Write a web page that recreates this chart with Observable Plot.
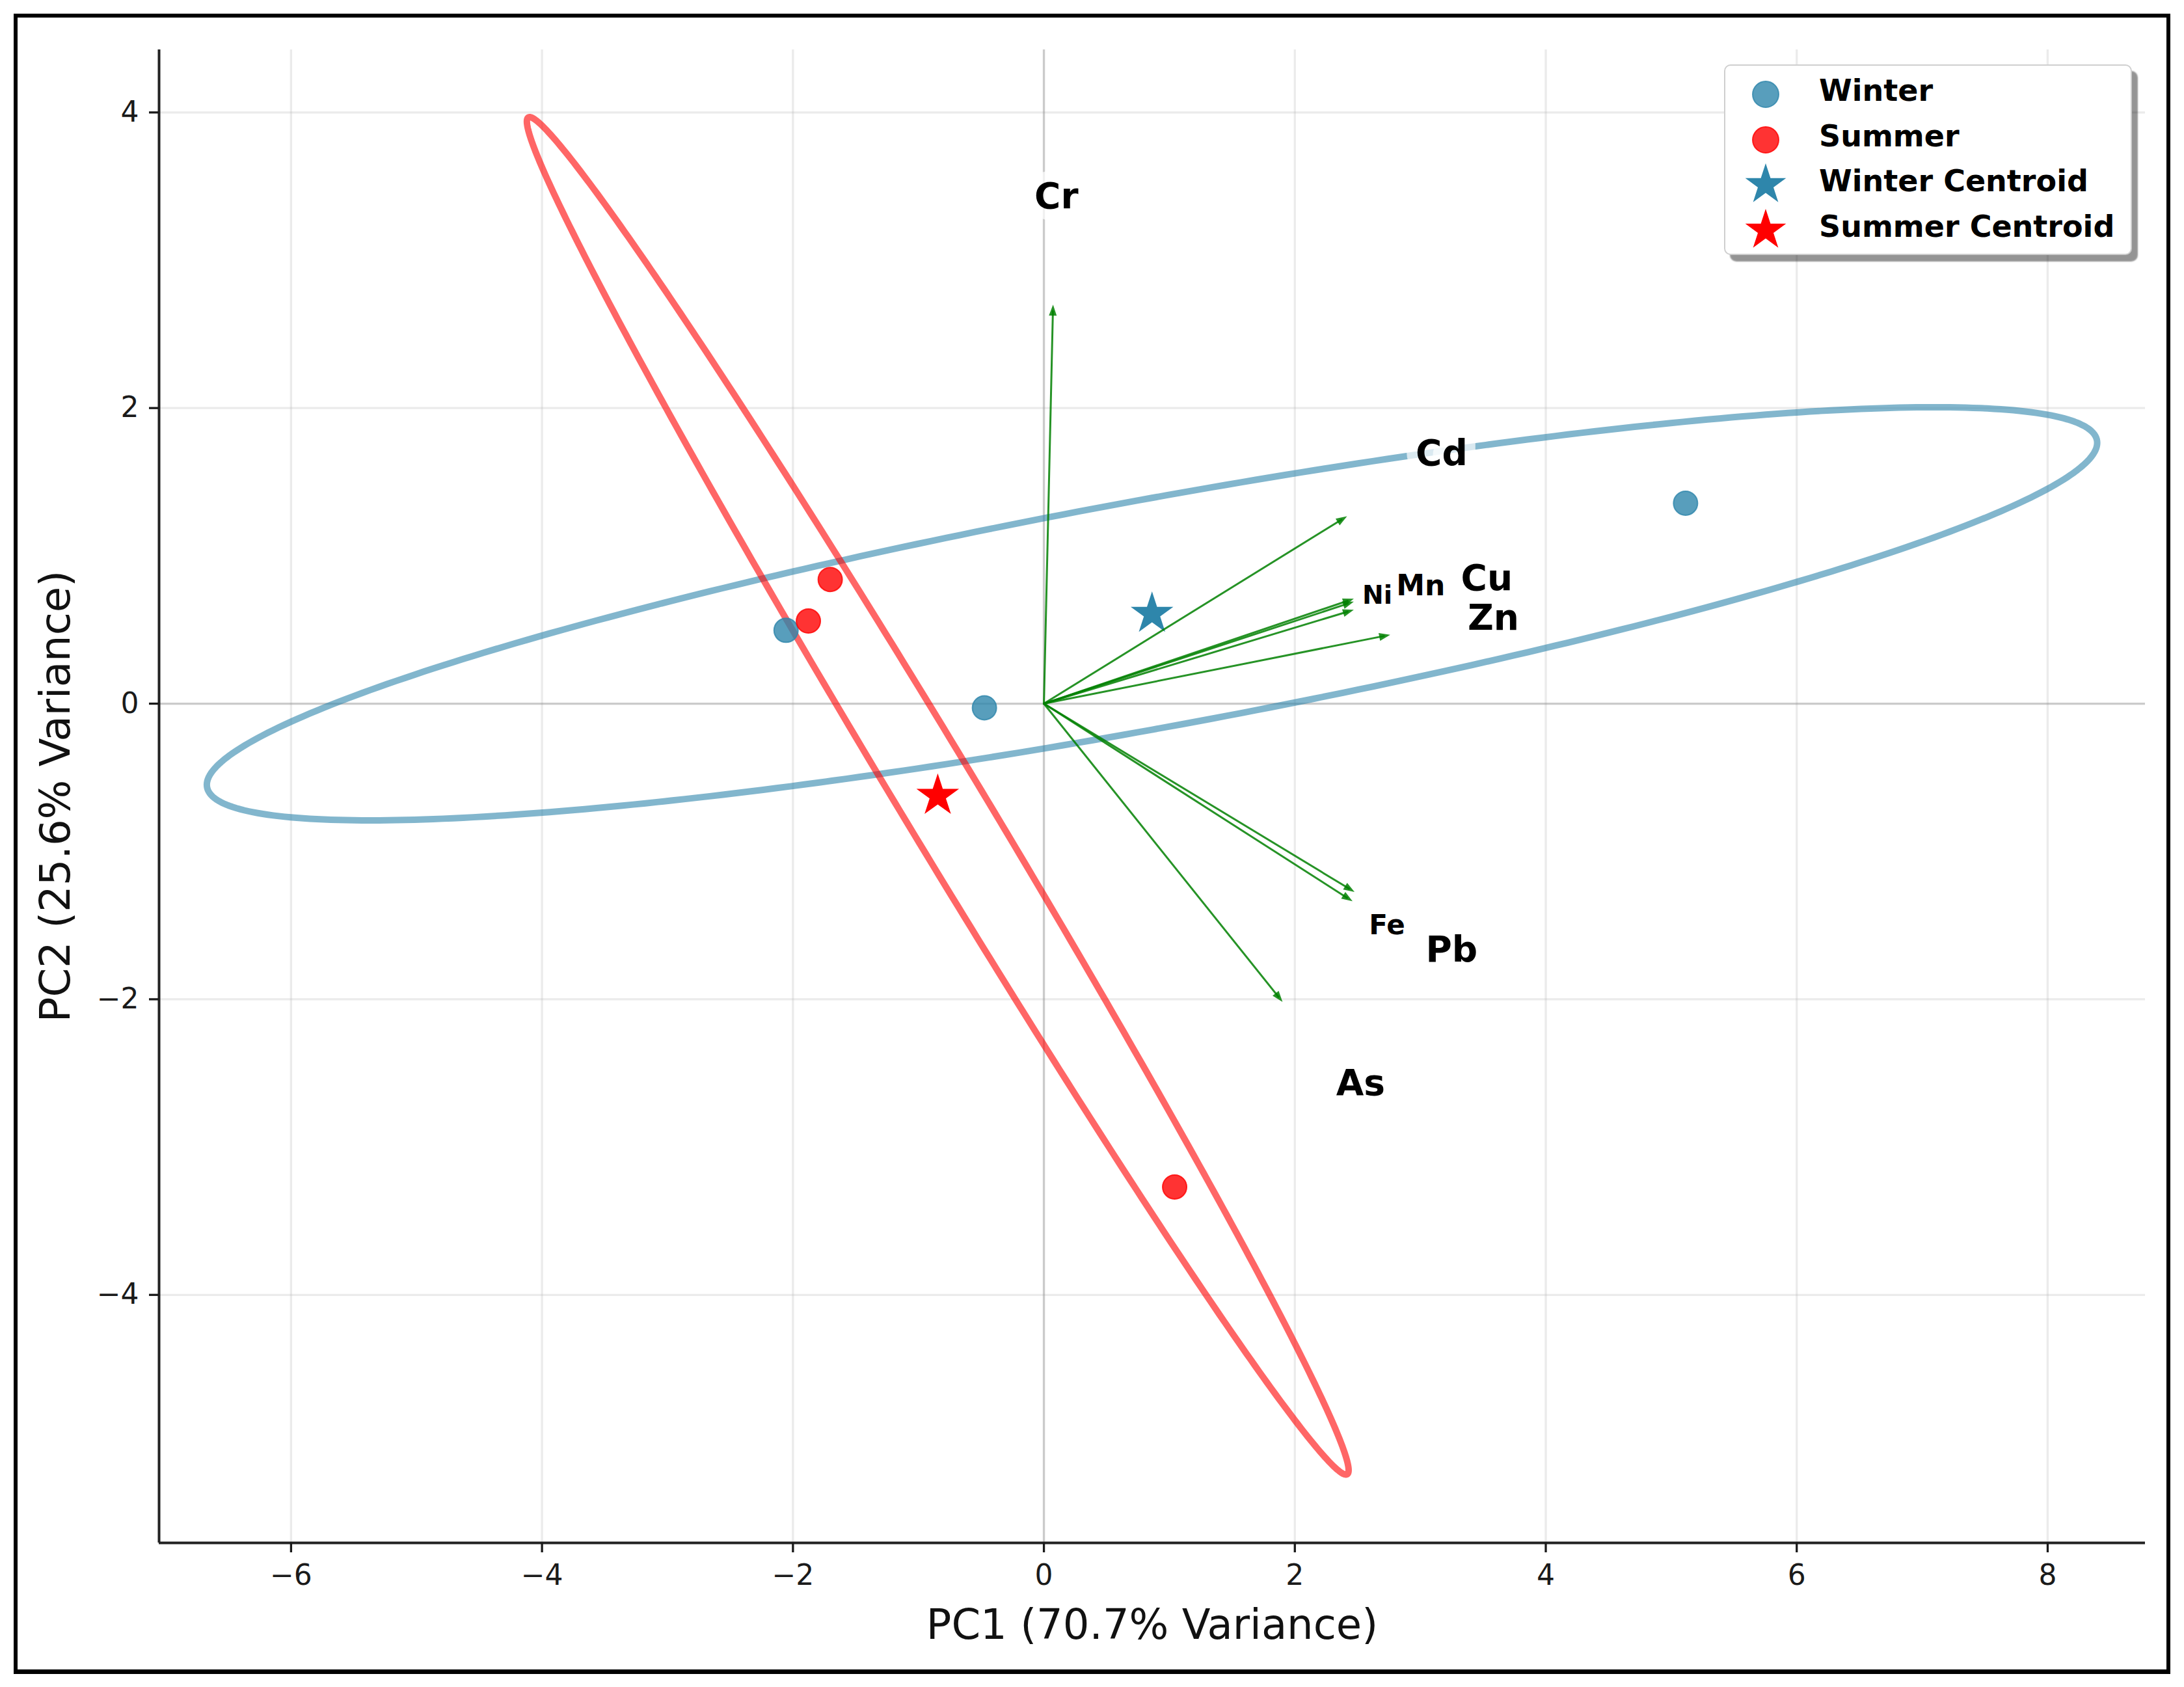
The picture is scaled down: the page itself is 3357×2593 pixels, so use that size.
<!DOCTYPE html>
<html>
<head>
<meta charset="utf-8">
<script src="https://cdn.jsdelivr.net/npm/d3@7"></script>
<script src="https://cdn.jsdelivr.net/npm/@observablehq/plot@0.6"></script>
<style>
  html, body { margin: 0; padding: 0; background: #fff; }
  #fig { position: relative; width: 3357px; height: 2593px; background: #fff; overflow: hidden;
         font-family: "DejaVu Sans", sans-serif; }
  #chart { position: absolute; left: 0; top: 0; }
  #frame { position: absolute; left: 21px; top: 21px; width: 3315px; height: 2552px;
           border: 6px solid #000; border-bottom-width: 7px; box-sizing: border-box; pointer-events: none; }
  #legend { position: absolute; left: 2650px; top: 99px; width: 627px; height: 293px; box-sizing: border-box;
            background: #fff; border: 2px solid #cfcfcf; border-radius: 10px;
            box-shadow: 9px 10px 2px rgba(0,0,0,0.42); }
  .row { position: absolute; left: 0; height: 80px; width: 100%; }
  .row svg { position: absolute; left: 22px; top: 0; }
  .row span { position: absolute; left: 144px; top: -6px; line-height: 80px; font-weight: bold;
              font-size: 46px; color: #000; white-space: nowrap; }
</style>
</head>
<body>
<div id="fig">
  <div id="chart"></div>
  <div id="legend"></div>
  <div id="frame"></div>
</div>
<script>
// PCA sample scores, one array per season and component
const winterPC1 = [5.114, -2.055, -0.474];
const winterPC2 = [1.356, 0.496, -0.028];
const summerPC1 = [-1.703, -1.877, 1.042];
const summerPC2 = [0.840, 0.559, -3.270];

// Element loadings (arrow tips) and where each element name sits
const elements   = ["Cr", "Cd", "Cu", "Mn", "Ni", "Zn", "Pb", "Fe", "As"];
const loadingPC1 = [0.073, 2.416, 2.470, 2.470, 2.470, 2.760, 2.476, 2.460, 1.902];
const loadingPC2 = [2.700, 1.268, 0.710, 0.635, 0.690, 0.466, -1.274, -1.337, -2.018];
const labelPC1   = [0.100, 3.170, 3.530, 3.003, 2.657, 3.582, 3.250, 2.735, 2.524];
const labelPC2   = [3.430, 1.690, 0.848, 0.796, 0.730, 0.576, -1.667, -1.499, -2.568];

// Axes
const xTicks = [-6, -4, -2, 0, 2, 4, 6, 8];
const yTicks = [-4, -2, 0, 2, 4];
const xTitle = "PC1 (70.7% Variance)";
const yTitle = "PC2 (25.6% Variance)";

// Legend entries
const legendLabels = ["Winter", "Summer", "Winter Centroid", "Summer Centroid"];

// ---------------------------------------------------------------
const winterColor = "#2E86AB";
const summerColor = "#ff0000";
const arrowColor = "#008000";
const xDomain = [-7.052, 8.778];
const yDomain = [-5.678, 4.424];
const W = 3357, H = 2593;
const margin = {left: 244, right: 60, top: 76, bottom: 222};

const toPoints = (xs, ys) => xs.map((x, i) => ({x, y: ys[i]}));
const winter = toPoints(winterPC1, winterPC2);
const summer = toPoints(summerPC1, summerPC2);
const winterCentroid = [{x: d3.mean(winterPC1), y: d3.mean(winterPC2)}];
const summerCentroid = [{x: d3.mean(summerPC1), y: d3.mean(summerPC2)}];

// 2-standard-deviation covariance ellipse of a group of scores
function confidenceEllipse(xs, ys, nStd = 2, steps = 400) {
  const mx = d3.mean(xs), my = d3.mean(ys), n = xs.length;
  let sxx = 0, syy = 0, sxy = 0;
  for (let i = 0; i < n; i++) {
    const dx = xs[i] - mx, dy = ys[i] - my;
    sxx += dx * dx; syy += dy * dy; sxy += dx * dy;
  }
  sxx /= n - 1; syy /= n - 1; sxy /= n - 1;
  const tr = sxx + syy, det = sxx * syy - sxy * sxy;
  const disc = Math.sqrt(Math.max(tr * tr / 4 - det, 0));
  const l1 = tr / 2 + disc, l2 = Math.max(tr / 2 - disc, 0);
  const theta = 0.5 * Math.atan2(2 * sxy, sxx - syy);
  const a = nStd * Math.sqrt(l1), b = nStd * Math.sqrt(l2);
  const c = Math.cos(theta), s = Math.sin(theta);
  return d3.range(steps).map(k => {
    const t = 2 * Math.PI * k / steps;
    const u = a * Math.cos(t), v = b * Math.sin(t);
    return {x: mx + u * c - v * s, y: my + u * s + v * c};
  });
}
const winterEllipse = confidenceEllipse(winterPC1, winterPC2);
const summerEllipse = confidenceEllipse(summerPC1, summerPC2);

// pixels per data unit, used to orient the arrowheads on screen
const kx = (W - margin.left - margin.right) / (xDomain[1] - xDomain[0]);
const ky = (H - margin.top - margin.bottom) / (yDomain[1] - yDomain[0]);

const loadings = elements.map((name, i) => ({
  name, pc1: loadingPC1[i], pc2: loadingPC2[i], lx: labelPC1[i], ly: labelPC2[i],
  angle: Math.atan2(loadingPC1[i] * kx, loadingPC2[i] * ky) * 180 / Math.PI
}));
const labelSize = name => ({Ni: 39, Mn: 44, Fe: 42}[name] ?? 55);

// filled arrowhead with its tip at the anchor, pointing up before rotation
const arrowHead = {
  draw(context) {
    context.moveTo(0, 0);
    context.lineTo(-6, 17);
    context.lineTo(6, 17);
    context.closePath();
  }
};

const fmt = d => d < 0 ? "\u2212" + Math.abs(d) : String(d);

const chart = Plot.plot({
  width: W,
  height: H,
  marginLeft: margin.left,
  marginRight: margin.right,
  marginTop: margin.top,
  marginBottom: margin.bottom,
  x: {domain: xDomain},
  y: {domain: yDomain},
  style: {fontFamily: "DejaVu Sans", fontSize: "44px", background: "white", color: "#1a1a1a"},
  marks: [
    // grid
    Plot.ruleX(xTicks, {stroke: "#b0b0b0", strokeOpacity: 0.25, strokeWidth: 3.3}),
    Plot.ruleY(yTicks, {stroke: "#b0b0b0", strokeOpacity: 0.25, strokeWidth: 3.3}),
    // origin lines
    Plot.ruleX([0], {stroke: "#808080", strokeOpacity: 0.3, strokeWidth: 3.3}),
    Plot.ruleY([0], {stroke: "#808080", strokeOpacity: 0.3, strokeWidth: 3.3}),
    // confidence ellipses
    Plot.line(winterEllipse, {x: "x", y: "y", curve: "linear-closed", stroke: winterColor,
      strokeOpacity: 0.6, strokeWidth: 10}),
    Plot.line(summerEllipse, {x: "x", y: "y", curve: "linear-closed", stroke: summerColor,
      strokeOpacity: 0.6, strokeWidth: 10}),
    // samples
    Plot.dot(winter, {x: "x", y: "y", r: 18.5, fill: winterColor, fillOpacity: 0.8,
      stroke: winterColor, strokeOpacity: 0.8, strokeWidth: 2}),
    Plot.dot(summer, {x: "x", y: "y", r: 18.5, fill: summerColor, fillOpacity: 0.8,
      stroke: summerColor, strokeOpacity: 0.8, strokeWidth: 2}),
    // centroids
    Plot.dot(winterCentroid, {x: "x", y: "y", symbol: "star", r: 20.6, fill: winterColor, stroke: null}),
    Plot.dot(summerCentroid, {x: "x", y: "y", symbol: "star", r: 20.6, fill: summerColor, stroke: null}),
    // loading vectors: shaft, then filled head
    Plot.arrow(loadings, {x1: () => 0, y1: () => 0, x2: "pc1", y2: "pc2", stroke: arrowColor,
      strokeOpacity: 0.85, strokeWidth: 3, headLength: 0, insetEnd: 10}),
    Plot.dot(loadings, {x: "pc1", y: "pc2", symbol: arrowHead, rotate: "angle", r: 5,
      fill: arrowColor, fillOpacity: 0.85, stroke: null}),
    Plot.text(loadings, {x: "lx", y: "ly", text: "name", fontSize: d => labelSize(d.name),
      strokeWidth: d => labelSize(d.name) * 0.6, fontWeight: "bold", fill: "black",
      stroke: "white", strokeOpacity: 0.7, textAnchor: "middle", lineAnchor: "middle"}),
    // spines
    Plot.ruleX([xDomain[0]], {stroke: "#222", strokeWidth: 4}),
    Plot.ruleY([yDomain[0]], {stroke: "#222", strokeWidth: 4}),
    // axes
    Plot.axisX({ticks: xTicks, tickFormat: fmt, tickSize: 15, tickPadding: 18, strokeWidth: 3.3,
      fontSize: 44, label: null, anchor: "bottom"}),
    Plot.axisY({ticks: yTicks, tickFormat: fmt, tickSize: 15, tickPadding: 16, strokeWidth: 3.3,
      fontSize: 44, label: null, anchor: "left"}),
    // axis titles
    Plot.text([xTitle], {frameAnchor: "bottom", dy: 127, fontSize: 64, textAnchor: "middle",
      lineAnchor: "middle", fill: "#111"}),
    Plot.text([yTitle], {frameAnchor: "left", dx: -158, rotate: -90, fontSize: 64, textAnchor: "middle",
      lineAnchor: "middle", fill: "#111"})
  ]
});
document.getElementById("chart").appendChild(chart);

// legend
const legendSymbols = ["circle", "circle", "star", "star"];
const legendColors = [winterColor, summerColor, winterColor, summerColor];
const legendRows = [44, 114, 183, 253];
const legend = d3.select("#legend");
legendLabels.forEach((label, i) => {
  const row = legend.append("div").attr("class", "row").style("top", (legendRows[i] - 40) + "px");
  const svg = row.append("svg").attr("width", 80).attr("height", 80)
    .append("g").attr("transform", "translate(40,40)");
  if (legendSymbols[i] === "circle") {
    svg.append("circle").attr("r", 20).attr("fill", legendColors[i]).attr("fill-opacity", 0.8)
      .attr("stroke", legendColors[i]).attr("stroke-opacity", 0.8).attr("stroke-width", 2);
  } else {
    svg.append("path").attr("d", d3.symbol(d3.symbolStar, 1222)()).attr("fill", legendColors[i]);
  }
  row.append("span").text(label);
});
</script>
</body>
</html>
